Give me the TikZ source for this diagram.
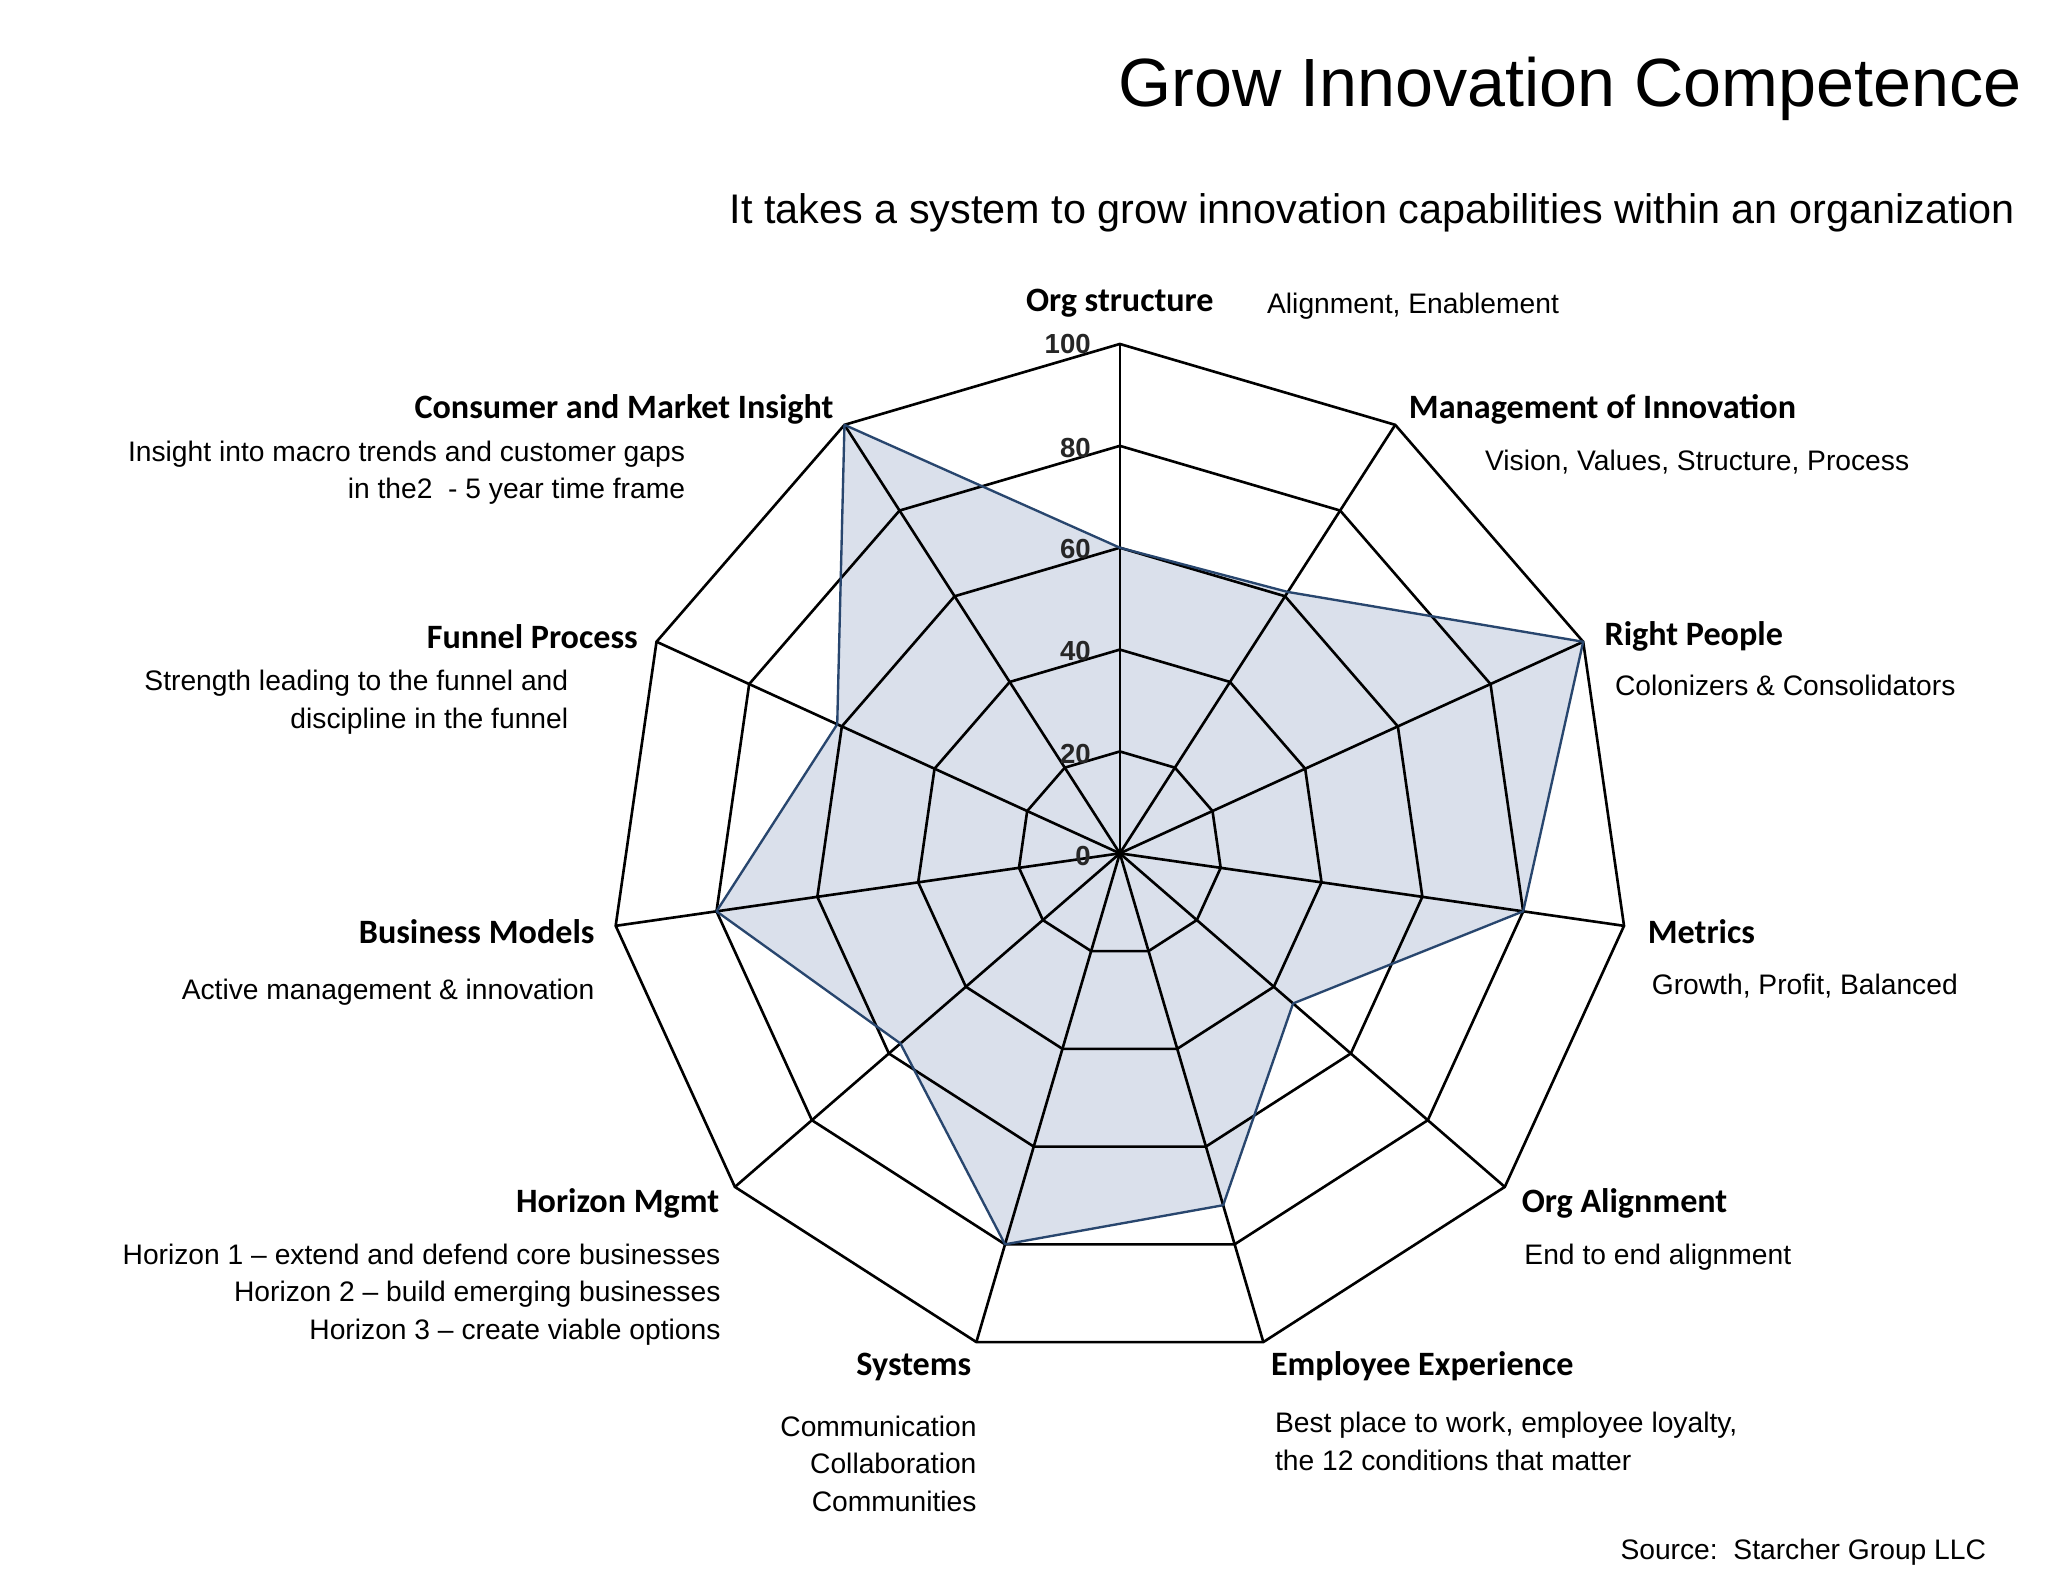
\documentclass[tikz,border=0pt]{standalone}
\usepackage{fontspec}
\usetikzlibrary{calc}
\setmainfont{Liberation Sans}
\newfontfamily\carlitofont{Carlito}
\definecolor{areafill}{RGB}{218,224,235}
\definecolor{arealine}{RGB}{40,70,110}
\begin{document}
\begin{tikzpicture}[x=1pt,y=-1pt,
  lab/.style={font=\carlitofont\bfseries\fontsize{26}{30}\selectfont,inner sep=0},
  desc/.style={font=\fontsize{21.5}{28.5}\selectfont,inner sep=0},
  num/.style={font=\bfseries\fontsize{21}{24}\selectfont,inner sep=0,anchor=east,text=black!85},
  grid/.style={black,line width=2pt,line join=miter}]
\useasboundingbox[fill=white] (0,0) rectangle (1560,1197);
\coordinate (c) at (853,650);
\foreach \v [count=\k from 0] in {60,61,100,80,45,72,80,57,80,61,100}{
  \coordinate (p\k) at ($(c)+({-90+\k*32.7273}:{\v*3.88})$);}
\foreach \r in {20,40,60,80,100}{
  \foreach \k in {0,...,10}{\coordinate (g\r-\k) at ($(c)+({-90+\k*32.7273}:{\r*3.88})$);}}
\fill[areafill] (p0)--(p1)--(p2)--(p3)--(p4)--(p5)--(p6)--(p7)--(p8)--(p9)--(p10)--cycle;
\foreach \r in {20,40,60,80,100}{
  \draw[grid] (g\r-0)--(g\r-1)--(g\r-2)--(g\r-3)--(g\r-4)--(g\r-5)--(g\r-6)--(g\r-7)--(g\r-8)--(g\r-9)--(g\r-10)--cycle;}
\foreach \k in {0,...,10}{\draw[grid] (c) -- (g100-\k);}
\draw[line width=1.8pt,arealine,line join=round] (p0)--(p1)--(p2)--(p3)--(p4)--(p5)--(p6)--(p7)--(p8)--(p9)--(p10)--cycle;
\node[num] (n100) at (831,262) {100};
\node[num] (n80) at (831,341) {80};
\node[num] (n60) at (831,418) {60};
\node[num] (n40) at (831,496) {40};
\node[num] (n20) at (831,574) {20};
\node[num] (n0) at (831,652) {0};
\node[anchor=east,font=\fontsize{52}{60}\selectfont,inner sep=0] (t) at (1540,68) {Grow Innovation Competence};
\node[anchor=east,font=\fontsize{31.5}{36}\selectfont,inner sep=0] (st) at (1535,162) {It takes a system to grow innovation capabilities within an organization};
\node[lab] (l0) at (853,231) {Org structure};
\node[desc,anchor=west] (d0) at (965,233) {Alignment, Enablement};
\node[lab,anchor=west] (l1) at (1073,312) {Management of Innovation};
\node[desc,anchor=west] (d1) at (1131,352) {Vision, Values, Structure, Process};
\node[lab,anchor=west] (l2) at (1222,485) {Right People};
\node[desc,anchor=west] (d2) at (1230,522) {Colonizers \& Consolidators};
\node[lab,anchor=west] (l3) at (1255,710) {Metrics};
\node[desc,anchor=west] (d3) at (1258,751) {Growth, Profit, Balanced};
\node[lab,anchor=west] (l4) at (1159,917) {Org Alignment};
\node[desc,anchor=west] (d4) at (1161,958) {End to end alignment};
\node[lab,anchor=west] (l5) at (968,1041) {Employee Experience};
\node[desc,anchor=west,align=left] (d5) at (971,1098) {Best place to work, employee loyalty,\\the 12 conditions that matter};
\node[lab,anchor=east] (l6) at (740,1041) {Systems};
\node[desc,anchor=east,align=right] (d6) at (744,1115) {Communication\\Collaboration\\Communities};
\node[lab,anchor=east] (l7) at (548,917) {Horizon Mgmt};
\node[desc,anchor=east,align=right] (d7) at (549,986) {Horizon 1 -- extend and defend core businesses\\Horizon 2 -- build emerging businesses\\Horizon 3 -- create viable options};
\node[lab,anchor=east] (l8) at (453,710) {Business Models};
\node[desc,anchor=east] (d8) at (453,756) {Active management \& innovation};
\node[lab,anchor=east] (l9) at (486,485) {Funnel Process};
\node[desc,anchor=east,align=right] (d9) at (433,535) {Strength leading to the funnel and\\discipline in the funnel};
\node[lab,anchor=east] (l10) at (635,312) {Consumer and Market Insight};
\node[desc,anchor=east,align=right] (d10) at (522,360) {Insight into macro trends and customer gaps\\in the2\ \ - 5 year time frame};
\node[desc,anchor=east] (src) at (1513,1182) {Source:\ \ Starcher Group LLC};
\end{tikzpicture}
\end{document}
